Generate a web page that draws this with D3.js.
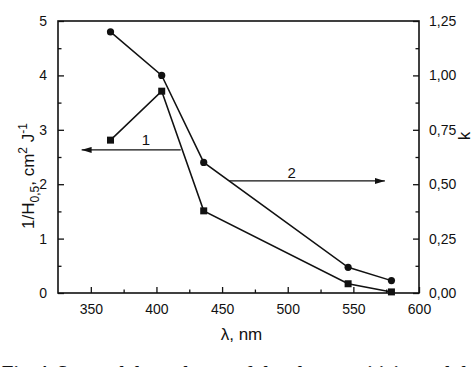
<!DOCTYPE html>
<html>
<head>
<meta charset="utf-8">
<script src="https://cdn.jsdelivr.net/npm/d3@7"></script>
<style>
  body { margin: 0; background: #fff; }
  svg { display: block; }
  text { font-family: "Liberation Sans", Arial, sans-serif; fill: #111; }
</style>
</head>
<body>
<svg id="chart" width="474" height="367"></svg>
<script>
// wavelength, nm
var wavelengths = [365, 404, 436, 546, 579];
// curve 1 (squares): 1/H0.5, cm2 J-1 -> left axis
var invH = [2.81, 3.71, 1.51, 0.17, 0.02];
// curve 2 (circles): k -> right axis
var kValues = [1.20, 1.00, 0.60, 0.118, 0.057];

var xTicks = [350, 400, 450, 500, 550, 600];
var yLeftTicks = [0, 1, 2, 3, 4, 5];
var yRightTicks = [0, 0.25, 0.5, 0.75, 1.0, 1.25];

var svg = d3.select("#chart");
var margin = {top: 21, right: 55, bottom: 74, left: 58};
var width = 474 - margin.left - margin.right,
    height = 367 - margin.top - margin.bottom;

var g = svg.append("g")
  .attr("transform", "translate(" + margin.left + "," + margin.top + ")");

var x = d3.scaleLinear().domain([325, 600]).range([0, width]);
var yL = d3.scaleLinear().domain([0, 5]).range([height, 0]);
var yR = d3.scaleLinear().domain([0, 1.25]).range([height, 0]);
var comma = function(v) { return d3.format(".2f")(v).replace(".", ","); };

// axes, ticks inward
g.append("g").attr("transform", "translate(0," + height + ")")
  .call(d3.axisBottom(x).tickValues(xTicks).tickSizeInner(-6).tickSizeOuter(0).tickPadding(11));
g.append("g").attr("transform", "translate(0," + height + ")")
  .call(d3.axisBottom(x).tickValues([375, 425, 475, 525, 575]).tickSizeInner(-3.5).tickSizeOuter(0).tickFormat(""));

g.append("g")
  .call(d3.axisLeft(yL).tickValues(yLeftTicks).tickSizeInner(-6).tickSizeOuter(0).tickPadding(11).tickFormat(d3.format("d")));
g.append("g")
  .call(d3.axisLeft(yL).tickValues([0.5, 1.5, 2.5, 3.5, 4.5]).tickSizeInner(-3.5).tickSizeOuter(0).tickFormat(""));

g.append("g").attr("transform", "translate(" + width + ",0)")
  .call(d3.axisRight(yR).tickValues(yRightTicks).tickSizeInner(-6).tickSizeOuter(0).tickPadding(10).tickFormat(comma));
g.append("g").attr("transform", "translate(" + width + ",0)")
  .call(d3.axisRight(yR).tickValues([0.125, 0.375, 0.625, 0.875, 1.125]).tickSizeInner(-3.5).tickSizeOuter(0).tickFormat(""));

g.selectAll(".tick line").attr("stroke", "#111").attr("stroke-width", 1.3);
g.selectAll(".domain").attr("stroke", "none");
g.selectAll(".tick text").style("font-size", "14px").attr("fill", "#111");

// frame
g.append("rect").attr("width", width).attr("height", height)
  .attr("fill", "none").attr("stroke", "#111").attr("stroke-width", 1.6);

// axis titles
svg.append("text")
  .attr("transform", "translate(" + (margin.left + width / 2 + 3) + ",340)")
  .attr("text-anchor", "middle").style("font-size", "17px")
  .text("\u03bb, nm");

var yt = svg.append("text")
  .attr("transform", "translate(34,176) rotate(-90)")
  .attr("text-anchor", "middle").style("font-size", "17px");
yt.append("tspan").text("1/H");
yt.append("tspan").attr("dy", 5).style("font-size", "12px").text("0,5");
yt.append("tspan").attr("dy", -5).text(", cm");
yt.append("tspan").attr("dy", -7).style("font-size", "12px").text("2");
yt.append("tspan").attr("dy", 7).text(" J");
yt.append("tspan").attr("dy", -7).style("font-size", "12px").text("-1");

svg.append("text")
  .attr("transform", "translate(470,136) rotate(-90)")
  .attr("text-anchor", "middle").style("font-size", "17px")
  .text("k");

// lines
var line1 = d3.line().x(function(d, i) { return x(wavelengths[i]); }).y(function(d) { return yL(d); });
var line2 = d3.line().x(function(d, i) { return x(wavelengths[i]); }).y(function(d) { return yR(d); });

g.append("path").datum(invH).attr("d", line1)
  .attr("fill", "none").attr("stroke", "#111").attr("stroke-width", 1.5);
g.append("path").datum(kValues).attr("d", line2)
  .attr("fill", "none").attr("stroke", "#111").attr("stroke-width", 1.5);

g.selectAll(".sq").data(invH).enter().append("rect")
  .attr("x", function(d, i) { return x(wavelengths[i]) - 3.5; })
  .attr("y", function(d) { return yL(d) - 3.5; })
  .attr("width", 7).attr("height", 7).attr("fill", "#111");

g.selectAll(".dot").data(kValues).enter().append("circle")
  .attr("cx", function(d, i) { return x(wavelengths[i]); })
  .attr("cy", function(d) { return yR(d); })
  .attr("r", 3.6).attr("fill", "#111");

// curve annotations with arrows
var defs = svg.append("defs");
defs.append("marker").attr("id", "arr").attr("viewBox", "0 0 10 6")
  .attr("refX", 10).attr("refY", 3).attr("markerWidth", 10).attr("markerHeight", 6)
  .attr("markerUnits", "userSpaceOnUse").attr("orient", "auto")
  .append("path").attr("d", "M0,0L10,3L0,6Z").attr("fill", "#111");

var arrows = [
  {label: "1", from: [418.5, 2.63], to: [343, 2.63], lx: 392, ly: 2.72},
  {label: "2", from: [455.5, 2.06], to: [574, 2.06], lx: 503, ly: 2.11}
];
arrows.forEach(function(a) {
  g.append("line")
    .attr("x1", x(a.from[0])).attr("y1", yL(a.from[1]))
    .attr("x2", x(a.to[0])).attr("y2", yL(a.to[1]))
    .attr("stroke", "#111").attr("stroke-width", 1.2)
    .attr("marker-end", "url(#arr)");
  g.append("text").attr("x", x(a.lx)).attr("y", yL(a.ly))
    .attr("text-anchor", "middle").style("font-size", "15px").text(a.label);
});

// caption line of the source page, cut by the bottom edge as in the original
svg.append("text")
  .attr("x", 2).attr("y", 379)
  .style("font-family", "'Liberation Serif', serif").style("font-weight", "bold")
  .style("font-size", "19px")
  .text("Fig. 4. Spectral dependences of the photosensitivity and the coeffi");
</script>
</body>
</html>
